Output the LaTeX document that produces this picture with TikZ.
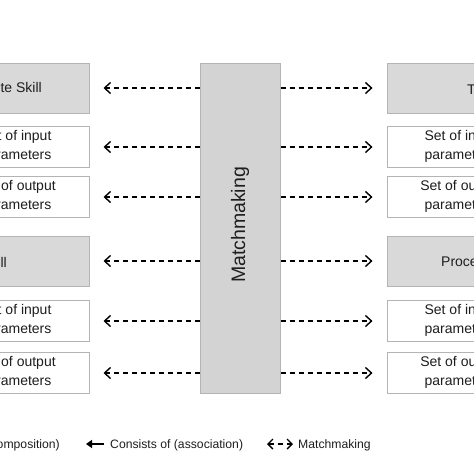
\documentclass[tikz,border=0pt]{standalone}
\usepackage{fontspec}
\setmainfont{Liberation Sans}
\usetikzlibrary{arrows.meta}
\definecolor{boxgray}{HTML}{D9D9D9}
\definecolor{mmgray}{HTML}{D3D3D3}
\definecolor{edgegray}{HTML}{B4B4B4}
\definecolor{txt}{HTML}{1E1E1E}
\begin{document}
\begin{tikzpicture}[x=1pt,y=-1pt,
  graybox/.style={draw=edgegray, fill=boxgray, line width=1pt, minimum width=140pt, minimum height=50pt, inner sep=0pt},
  parambox/.style={draw=edgegray, fill=white, line width=1pt, minimum width=140pt, minimum height=41pt, inner sep=0pt},
  paramtext/.style={inner sep=0pt, align=center, text=txt, font=\fontsize{14}{18.5}\selectfont},
  graylabel/.style={inner sep=0pt, text=txt, font=\fontsize{14}{16}\selectfont},
  mmbox/.style={draw=edgegray, fill=mmgray, line width=1pt, minimum width=80pt, minimum height=330pt, inner sep=0pt},
  mmarrow/.style={draw=black, line width=1.2pt, dash pattern=on 5pt off 4pt, -{Straight Barb[length=6pt,width=11pt,line width=1.4pt]}, shorten >=14pt},
  legendtext/.style={inner sep=0pt, text=txt, font=\fontsize{12.2}{14}\selectfont}
]
\useasboundingbox (0,0) rectangle (474,474);
\clip (0,0) rectangle (474,474);

% central box
\node[mmbox] (mm) at (240,228) {};
\node[rotate=90, inner sep=0pt, text=txt, font=\fontsize{19.5}{22}\selectfont] (mmtext) at (240,225) {Matchmaking};

% left column
\node[graybox] (lcs) at (19,88) {};
\node[graylabel, anchor=east] (lcslabel) at (42,89) {Composite Skill};
\node[parambox] (lin1) at (19,147) {};
\node[paramtext] (lin1t) at (16,146.5) {Set of input\\parameters};
\node[parambox] (lout1) at (19,197) {};
\node[paramtext] (lout1t) at (16,196.5) {Set of output\\parameters};
\node[graybox] (ls) at (19,261) {};
\node[graylabel, anchor=east] (lslabel) at (7,262) {Skill};
\node[parambox] (lin2) at (19,321) {};
\node[paramtext] (lin2t) at (16,320.5) {Set of input\\parameters};
\node[parambox] (lout2) at (19,373) {};
\node[paramtext] (lout2t) at (16,372.5) {Set of output\\parameters};

% right column
\node[graybox] (rt) at (457,88) {};
\node[graylabel, anchor=west] (rtlabel) at (467,89) {Task};
\node[parambox] (rin1) at (457,147) {};
\node[paramtext] (rin1t) at (460,146.5) {Set of input\\parameters};
\node[parambox] (rout1) at (457,197) {};
\node[paramtext] (rout1t) at (460,196.5) {Set of output\\parameters};
\node[graybox] (rp) at (457,261) {};
\node[graylabel, anchor=west] (rplabel) at (441,262) {Process};
\node[parambox] (rin2) at (457,321) {};
\node[paramtext] (rin2t) at (460,320.5) {Set of input\\parameters};
\node[parambox] (rout2) at (457,373) {};
\node[paramtext] (rout2t) at (460,372.5) {Set of output\\parameters};

% matchmaking arrows
\foreach \n in {lcs,lin1,lout1,ls,lin2,lout2}{
  \draw[mmarrow] (mm.west |- \n.east) -- (\n.east);
}
\foreach \n in {rt,rin1,rout1,rp,rin2,rout2}{
  \draw[mmarrow] (mm.east |- \n.west) -- (\n.west);
}

% legend
\node[legendtext, anchor=east] (lg1) at (60,445) {(composition)};
\coordinate (a1s) at (104,444);
\coordinate (a1e) at (86,444);
\draw[line width=1.4pt, -{Triangle[length=6pt,width=8pt]}] (a1s) -- (a1e);
\node[legendtext, anchor=west] (lg2) at (110,445) {Consists of (association)};
\coordinate (a2s) at (267,444);
\coordinate (a2e) at (293,444);
\draw[line width=1.2pt, dash pattern=on 5pt off 4pt, {Straight Barb[length=5pt,width=10pt,line width=1.4pt]}-{Straight Barb[length=5pt,width=10pt,line width=1.4pt]}] (a2s) -- (a2e);
\node[legendtext, anchor=west] (lg3) at (298,445) {Matchmaking};
\end{tikzpicture}
\end{document}
